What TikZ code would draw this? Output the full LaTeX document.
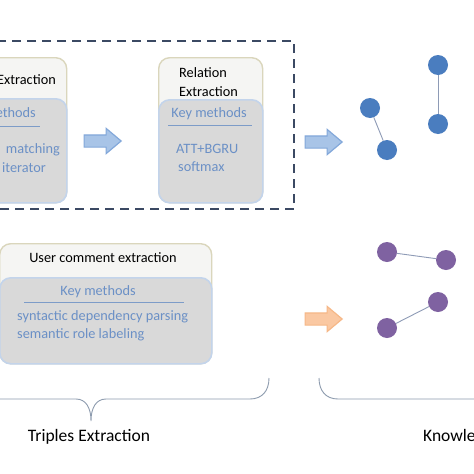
\documentclass[tikz,border=0pt]{standalone}
\usepackage{fontspec}
\setmainfont{Carlito}
\usetikzlibrary{shapes.arrows,positioning}
\definecolor{frameline}{HTML}{3B4963}
\definecolor{tanline}{HTML}{DAD6BC}
\definecolor{titlefill}{HTML}{F5F5F3}
\definecolor{innerline}{HTML}{C3D4EB}
\definecolor{innerfill}{HTML}{D9D9D9}
\definecolor{keyblue}{HTML}{6B90C6}
\definecolor{keyrule}{HTML}{7D9CC8}
\definecolor{arrowblue}{HTML}{A8C4E7}
\definecolor{arrowblueline}{HTML}{83A8DA}
\definecolor{arroworange}{HTML}{FAC8A2}
\definecolor{arroworangeline}{HTML}{F6B888}
\definecolor{nodeblue}{HTML}{4A7DBF}
\definecolor{nodepurple}{HTML}{7F62A1}
\definecolor{linkgray}{HTML}{8E9BB6}
\definecolor{bracegray}{HTML}{8D9BAE}
\tikzset{
  outerbox/.style={draw=tanline, fill=titlefill, line width=1.4pt, rounded corners=11pt, inner sep=0pt, anchor=north west},
  innerbox/.style={draw=innerline, fill=innerfill, line width=1.6pt, rounded corners=11pt, inner sep=0pt, anchor=north west},
  titletxt/.style={font=\fontsize{14.3}{19}\selectfont, text=black, align=left, inner sep=0pt},
  keytxt/.style={font=\fontsize{14.3}{18.5}\selectfont, text=keyblue, align=left, inner sep=0pt},
  keyline/.style={draw=keyrule, line width=1pt},
  blockarrow/.style={single arrow, single arrow head extend=6.5pt, single arrow tip angle=80, inner xsep=0pt, inner ysep=5.5pt, minimum height=37pt, line width=1.2pt},
  bnode/.style={circle, fill=nodeblue, minimum size=20pt, inner sep=0pt},
  pnode/.style={circle, fill=nodepurple, minimum size=20pt, inner sep=0pt},
  link/.style={draw=linkgray, line width=0.9pt},
  brace/.style={draw=bracegray, line width=0.9pt},
  caption/.style={font=\fontsize{17.5}{21}\selectfont, text=black, inner sep=0pt},
}
\begin{document}
\begin{tikzpicture}[x=1pt,y=-1pt]
  \useasboundingbox (0,0) rectangle (474,474);
  \fill[white] (0,0) rectangle (474,474);
  \clip (0,0) rectangle (474,474);

  % extraction stage frame
  \draw[frameline, line width=2.2pt, dash pattern=on 9pt off 6pt] (-12,41) rectangle (294,209);

  % entity box (cut at left)
  \node[outerbox, minimum width=110pt, minimum height=145pt] (entbox) at (-44,57) {};
  \node[innerbox, minimum width=110pt, minimum height=104pt] (entkey) at (-44,98) {};
  \node[titletxt, anchor=east] (enttitle) at (56,80) {Extraction};
  \node[keytxt, anchor=east] (entkeyhead) at (36,114) {Key methods};
  \draw[keyline] (-30,126) -- (40,126);
  \node[keytxt, anchor=east] (entm1) at (60,150) {matching};
  \node[keytxt, anchor=east] (entm2) at (46,168) {iterator};

  % relation box
  \node[outerbox, minimum width=104pt, minimum height=145pt] (relbox) at (158,57) {};
  \node[innerbox, minimum width=104pt, minimum height=103pt] (relkey) at (158,99) {};
  \node[titletxt, anchor=north west] (reltitle) at (179,67) {Relation\\Extraction};
  \node[keytxt] (relkeyhead) at (209,114) {Key methods};
  \draw[keyline] (168,125) -- (252,125);
  \node[keytxt, anchor=north west] (relm) at (176,144) {ATT+BGRU\\\hspace*{2pt}softmax};

  % user comment box
  \node[outerbox, minimum width=212pt, minimum height=120pt] (combox) at (-1,243) {};
  \node[innerbox, minimum width=212pt, minimum height=86pt] (comkey) at (-1,277) {};
  \node[titletxt] (comtitle) at (103,258) {User comment\ extraction};
  \node[keytxt] (comkeyhead) at (98,292) {Key methods};
  \draw[keyline] (24,302) -- (184,302);
  \node[keytxt, anchor=north west] (comm) at (17,310) {syntactic dependency parsing\\semantic role labeling};

  % block arrows
  \node[blockarrow, fill=arrowblue, draw=arrowblueline] (arr1) at (99,141) {};
  \node[blockarrow, fill=arrowblue, draw=arrowblueline] (arr2) at (320,142) {};
  \node[blockarrow, fill=arroworange, draw=arroworangeline] (arr3) at (320,319) {};

  % triples from text
  \node[bnode] (b1) at (370,108) {};
  \node[bnode] (b2) at (387,150) {};
  \node[bnode] (b3) at (438,65) {};
  \node[bnode] (b4) at (438,124) {};
  \draw[link] (b1) -- (b2);
  \draw[link] (b3) -- (b4);

  % triples from comments
  \node[pnode] (p1) at (387,252) {};
  \node[pnode] (p2) at (446,260) {};
  \node[pnode] (p3) at (438,302) {};
  \node[pnode] (p4) at (387,328) {};
  \draw[link] (p1) -- (p2);
  \draw[link] (p3) -- (p4);

  % braces
  \draw[brace] (-5,399) -- (76,399) .. controls (86,399) and (91,408) .. (91,421)
    .. controls (91,408) and (96,399) .. (106,399) -- (250,399)
    .. controls (262,399) and (269,391) .. (269,378);
  \draw[brace] (319,378) .. controls (319,391) and (326,399) .. (338,399) -- (480,399);
  \node[caption] (lbltriples) at (89,437) {Triples Extraction};
  \node[caption, anchor=west] (lblkg) at (423,437) {Knowledge Graph};
\end{tikzpicture}
\end{document}
